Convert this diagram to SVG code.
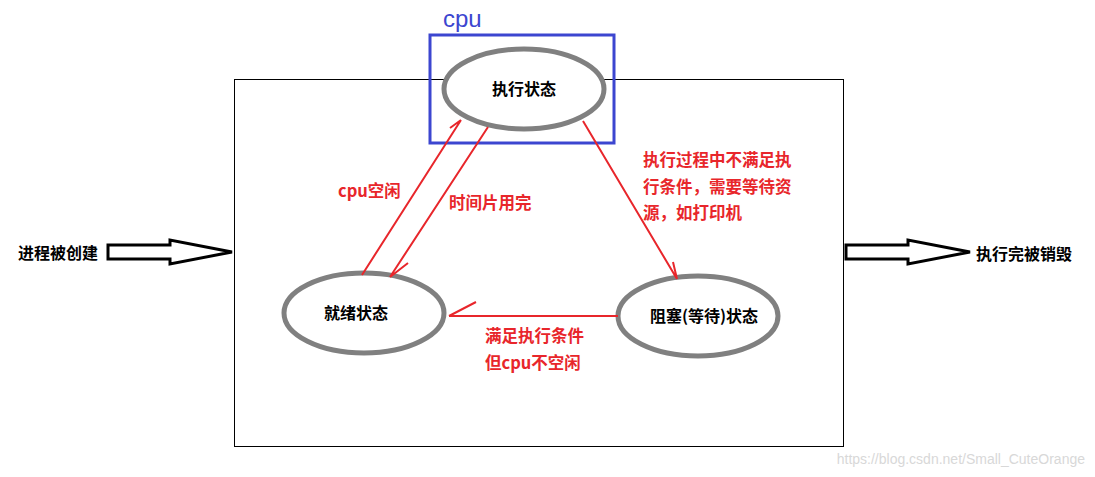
<svg xmlns="http://www.w3.org/2000/svg" width="1095" height="477" viewBox="0 0 1095 477">
<style>
.st{fill:#fff;stroke:#808080;stroke-width:5}
.t{font-family:"Noto Sans CJK SC",sans-serif;font-weight:bold;font-size:16px;fill:#000}
.r{font-family:"Noto Sans CJK SC",sans-serif;font-weight:bold;font-size:16.5px;fill:#e8262b}
.ar{stroke:#e8262b;stroke-width:2;fill:none}
.ho{fill:#fff;stroke:#000;stroke-width:3}
</style>
<rect width="1095" height="477" fill="#fff"/>
<rect x="234.5" y="79.5" width="609" height="367" fill="none" stroke="#000" stroke-width="1"/>
<g id="cpu"><rect x="430" y="35" width="184" height="108" fill="none" stroke="#3c46d0" stroke-width="3"/>
<text x="443" y="27" font-family="Liberation Sans,sans-serif" font-size="24" fill="#3c46d0">cpu</text></g>
<g id="run"><ellipse class="st" cx="524" cy="89" rx="80" ry="40"/><text class="t" x="524" y="95" text-anchor="middle">执行状态</text></g>
<g id="ready"><ellipse class="st" cx="364" cy="313" rx="80" ry="40"/><text class="t" x="356" y="319" text-anchor="middle">就绪状态</text></g>
<g id="block"><ellipse class="st" cx="698" cy="316" rx="80" ry="40"/><text class="t" x="704" y="322" text-anchor="middle">阻塞(等待)状态</text></g>
<g id="connectors">
<path class="ar" d="M362 275L461 120M450 128L461 120"/>
<path class="ar" d="M488 127L390 277M408 263L390 277"/>
<path class="ar" d="M583 121L677 279M673 262L677 279"/>
<path class="ar" d="M618 316L449 316M476 302L449 316"/>
<path class="ho" d="M108 245H170V240L232 252L170 264V259H108Z"/>
<path class="ho" d="M846 245H908V240L970 252L908 264V259H846Z"/>
</g>
<text class="r" x="338" y="197">cpu空闲</text>
<text class="r" x="449" y="209">时间片用完</text>
<text class="r" x="643" y="166">执行过程中不满足执</text>
<text class="r" x="643" y="193">行条件，需要等待资</text>
<text class="r" x="643" y="219">源，如打印机</text>
<text class="r" x="485" y="342">满足执行条件</text>
<text class="r" x="485" y="369">但cpu不空闲</text>
<text class="t" x="18" y="259">进程被创建</text>
<text class="t" x="976" y="260">执行完被销毁</text>
<text x="1085" y="464" text-anchor="end" font-family="Liberation Sans,sans-serif" font-size="14" fill="#d8d8d8">https://blog.csdn.net/Small_CuteOrange</text>
</svg>
